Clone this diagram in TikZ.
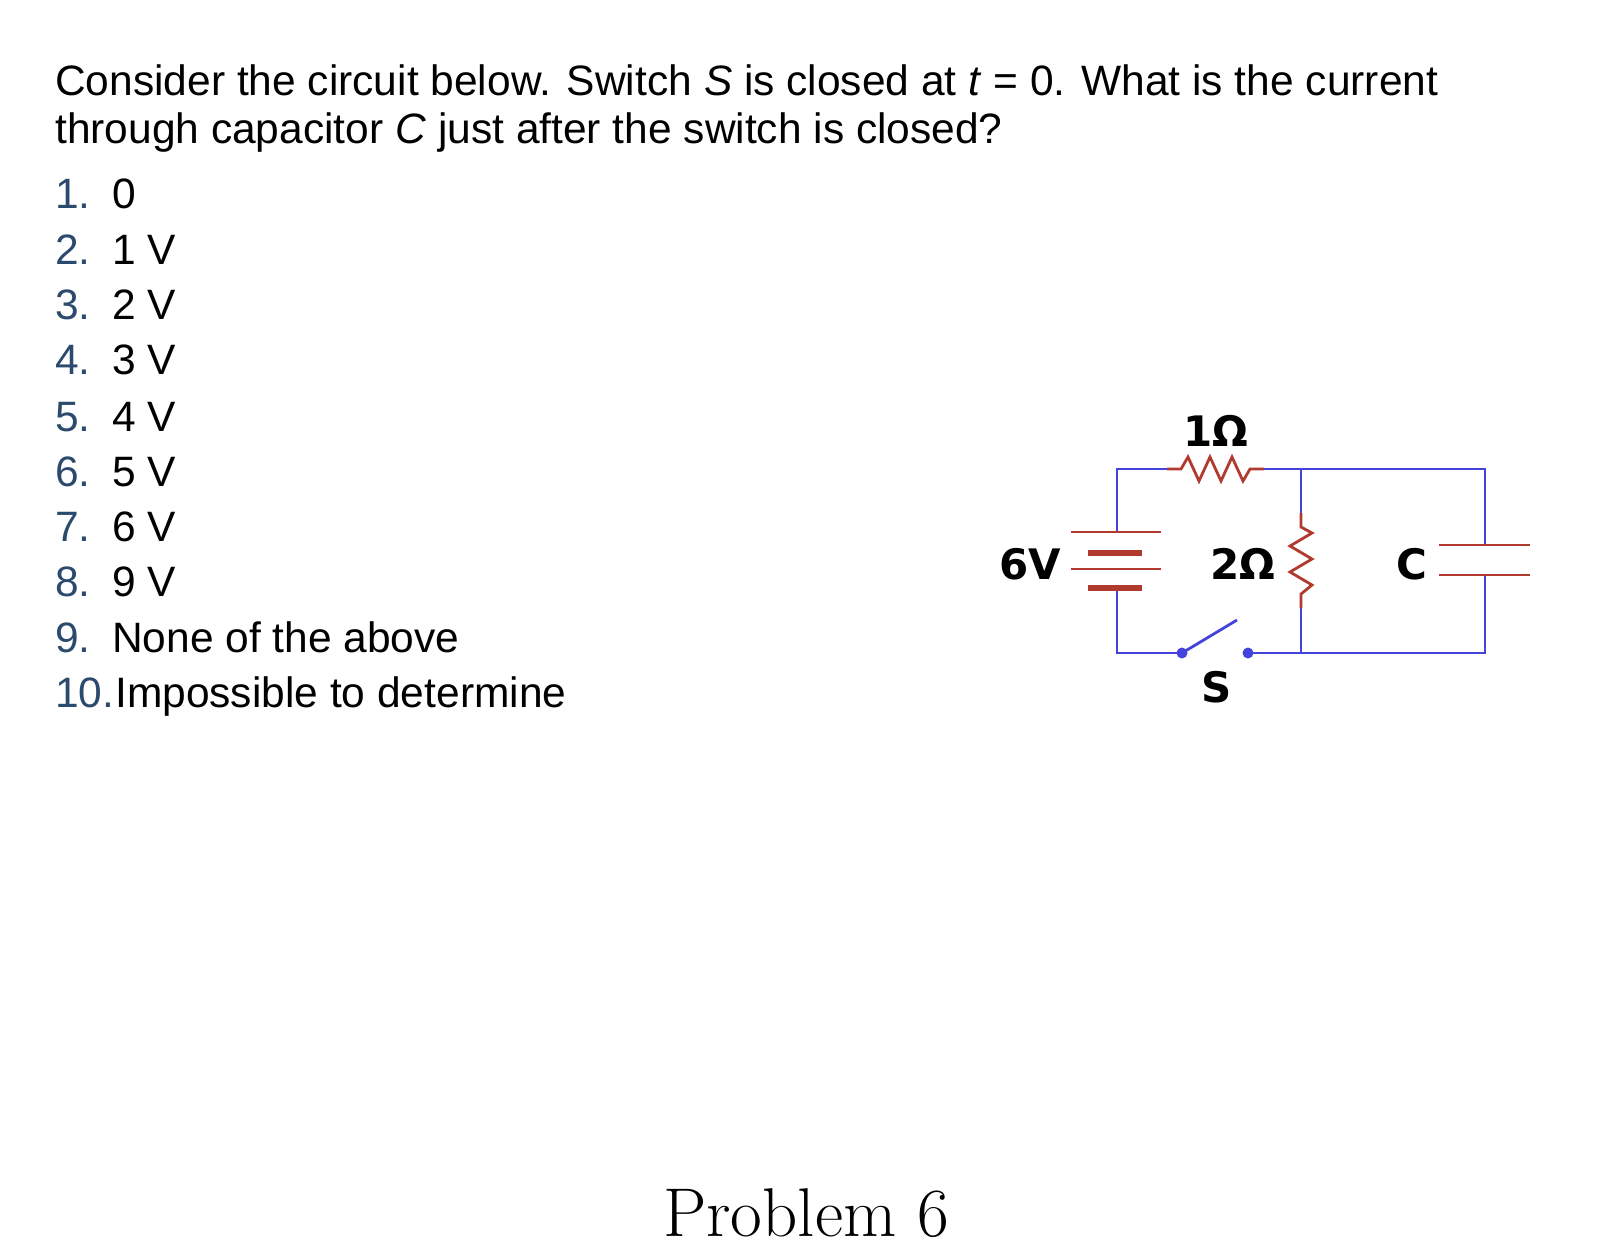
\documentclass[tikz,border=0pt]{standalone}
\usepackage{fontspec}
\setmainfont{Liberation Sans}
\newfontfamily\lbl{DejaVu Sans}
\newfontfamily\lmr{Latin Modern Roman}
\definecolor{wire}{HTML}{4444DD}
\definecolor{comp}{HTML}{B03A2E}
\definecolor{num}{HTML}{2C4A6E}
\begin{document}
\begin{tikzpicture}[x=1pt,y=-1pt,
  txt/.style={anchor=base west,inner sep=0,font=\fontsize{42.5}{42.5}\selectfont},
  nm/.style={txt,text=num},
  lab/.style={inner sep=0,font=\lbl\bfseries\fontsize{42}{42}\selectfont},
  w/.style={draw=wire,line width=2.8},
  r/.style={draw=comp,line width=2.8},
  dot/.style={circle,fill=wire,inner sep=0,minimum size=11}]
\useasboundingbox (0,0) rectangle (1623,1259);
\node[txt] (l1) at (55,95) {Consider the circuit below. Switch \textit{S} is closed at \textit{t} = 0. What is the current};
\node[txt] (l2) at (55,143) {through capacitor \textit{C} just after the switch is closed?};
\foreach \i/\t/\y in {1/0/208,2/1 V/264,3/2 V/319,4/3 V/374,5/4 V/431,6/5 V/486,7/6 V/541,8/9 V/596,9/None of the above/652}{
  \node[nm] (n\i) at (55,\y) {\i.};
  \node[txt] (t\i) at (112,\y) {\t};}
\node[nm] (n10) at (55,707) {10.};
\node[txt] (t10) at (115,707) {Impossible to determine};
\node[anchor=base,inner sep=0,font=\lmr\fontsize{69}{69}\selectfont] (p) at (806,1236) {Problem 6};
% circuit coordinates
\coordinate (tl) at (1117,469); \coordinate (tj) at (1301,469); \coordinate (tr) at (1485,469);
\coordinate (bl) at (1117,653); \coordinate (bj) at (1301,653); \coordinate (br) at (1485,653);
\coordinate (r1a) at (1167,469); \coordinate (r1b) at (1264,469);
\coordinate (r2a) at (1301,513); \coordinate (r2b) at (1301,608);
\coordinate (b1) at (1117,532); \coordinate (b2) at (1117,588);
\coordinate (c1) at (1485,545); \coordinate (c2) at (1485,575);
\node[dot] (s1) at (1182,653) {};
\node[dot] (s2) at (1248,653) {};
\coordinate (sb) at (1237,620);
% wires
\draw[w] (b1) -- (tl) -- (r1a);
\draw[w] (r1b) -- (tr) -- (c1);
\draw[w] (tj) -- (r2a);
\draw[w] (r2b) -- (bj);
\draw[w] (b2) -- (bl) -- (s1.center);
\draw[w] (s2.center) -- (br) -- (c2);
\draw[w] (s1.center) -- (sb);
% resistor 1
\draw[r,line join=miter] (r1a) -- (1181,469) -- (1188,457) -- (1199,481) -- (1210,457) -- (1221,481) -- (1232,457) -- (1243,481) -- (1250,469) -- (r1b);
% resistor 2
\draw[r,line join=miter] (r2a) -- (1301,527) -- (1312,533) -- (1290,546) -- (1312,559) -- (1290,572) -- (1312,585) -- (1301,594) -- (r2b);
% battery
\draw[r] (1071,532) -- (1161,532);
\draw[r,line width=5.5] (1088,553) -- (1142,553);
\draw[r] (1071,569) -- (1161,569);
\draw[r,line width=5.5] (1088,588) -- (1142,588);
% capacitor
\draw[r] (1439,545) -- (1530,545);
\draw[r] (1439,575) -- (1530,575);
% labels
\node[lab] (L1) at (1216,431) {1Ω};
\node[lab] (L6) at (1030,564) {6V};
\node[lab] (L2) at (1243,564) {2Ω};
\node[lab] (LC) at (1412,564) {C};
\node[lab] (LS) at (1217,687) {S};
\end{tikzpicture}
\end{document}
